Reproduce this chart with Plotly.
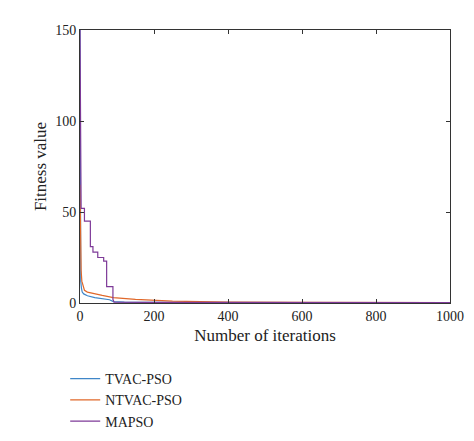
import plotly.graph_objects as go

# iteration / fitness pairs
tvac_x = [0, 1, 2, 4, 6, 10, 20, 40, 60, 80, 90, 120, 200, 400, 1000]
tvac_y = [150, 30, 12, 8, 6, 5, 4, 3, 2.5, 1.8, 0.8, 0.5, 0.3, 0.15, 0.1]

ntvac_x = [0, 1, 2, 3, 5, 8, 12, 20, 40, 60, 90, 150, 250, 400, 600, 1000]
ntvac_y = [65, 40, 25, 18, 12, 9, 7, 6, 5, 4.2, 3, 2, 1, 0.5, 0.3, 0.2]

mapso_x = [0, 1, 2, 3, 3, 12, 12, 28, 28, 35, 35, 48, 48, 64, 64, 72, 72, 89, 89, 92, 200, 1000]
mapso_y = [150, 90, 53, 53, 52, 52, 45, 45, 31, 31, 28, 28, 25, 25, 23, 23, 9, 9, 2, 0.5, 0.3, 0.2]

fig = go.Figure()
fig.add_trace(go.Scatter(x=tvac_x, y=tvac_y, mode="lines", name="TVAC-PSO",
                         line=dict(color="#3f86c8", width=1.2)))
fig.add_trace(go.Scatter(x=ntvac_x, y=ntvac_y, mode="lines", name="NTVAC-PSO",
                         line=dict(color="#e0682a", width=1.2)))
fig.add_trace(go.Scatter(x=mapso_x, y=mapso_y, mode="lines", name="MAPSO",
                         line=dict(color="#7e3a98", width=1.2)))

axis = dict(showgrid=False, zeroline=False, showline=True, mirror="ticks",
            linecolor="#333", linewidth=1, ticks="inside", ticklen=4,
            tickcolor="#333", tickfont=dict(size=14))
fig.update_layout(
    width=474, height=441, plot_bgcolor="white", paper_bgcolor="white",
    font=dict(family="Liberation Serif", size=14, color="#222"),
    margin=dict(l=72, r=32, t=22, b=137),
    xaxis=dict(axis, range=[0, 1000], dtick=200, title=dict(text="Number of iterations", standoff=6)),
    yaxis=dict(axis, range=[0, 150], dtick=50, title=dict(text="Fitness value", standoff=4)),
    legend=dict(x=-0.04, y=-0.22, xanchor="left", yanchor="top", font=dict(size=14),
                tracegroupgap=2),
)
fig.write_html("out.html")
